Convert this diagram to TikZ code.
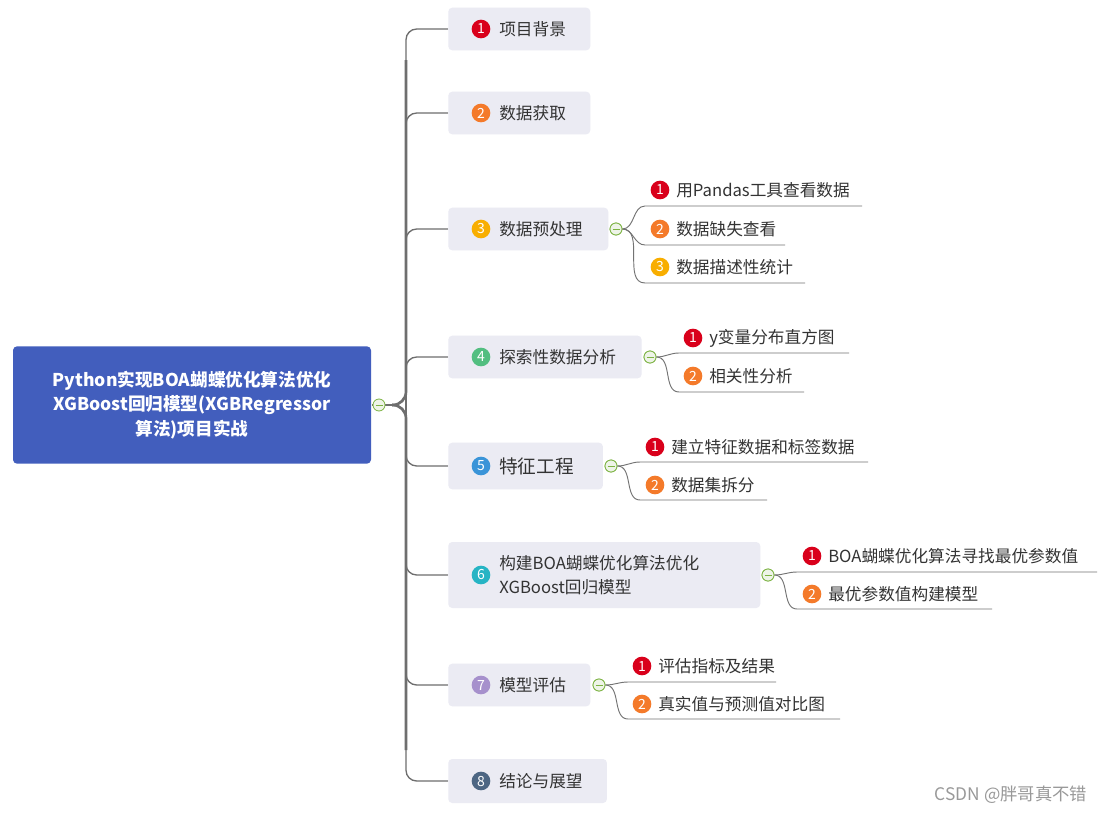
\documentclass[tikz,border=0pt]{standalone}
\usepackage{fontspec}
\setmainfont{Noto Sans CJK SC}
\usetikzlibrary{calc}
\begin{document}
\begin{tikzpicture}[x=0.75pt,y=-0.75pt,
  mainbox/.style={fill=boxc,rounded corners=3pt,anchor=west,inner sep=0,minimum height=32pt,font=\fontsize{12.5}{14}\selectfont,text=txt,align=left},
  badge/.style={circle,fill=#1,inner sep=0,minimum size=14pt,text=white,font=\fontsize{10.5}{10}\selectfont},
  subtxt/.style={anchor=west,font=\fontsize{12.5}{14}\selectfont,text=txt,inner sep=0},
  trunk/.style={draw=trk,line width=2pt},
  br/.style={draw=trk,line width=1pt},
  sl/.style={draw=gray!90!black,line width=0.7pt},
  mk/.style={circle,draw=mkg,fill=mkf,line width=0.6pt,inner sep=0,minimum size=9pt}]
\definecolor{boxc}{HTML}{EBEBF3}
\definecolor{txt}{HTML}{333333}
\definecolor{trk}{HTML}{6E6E6E}
\definecolor{mkg}{HTML}{7CB342}
\definecolor{mkf}{HTML}{EEF4E8}
\definecolor{rootc}{HTML}{425EBD}
\definecolor{c1}{HTML}{D9001B}
\definecolor{c2}{HTML}{F47A2A}
\definecolor{c3}{HTML}{F8AE00}
\definecolor{c4}{HTML}{52BE80}
\definecolor{c5}{HTML}{3A94D8}
\definecolor{c6}{HTML}{26B4C4}
\definecolor{c7}{HTML}{A690CC}
\definecolor{c8}{HTML}{4D6683}
\useasboundingbox (0,0) rectangle (1107,814);
\fill[white] (0,0) rectangle (1107,814);
% root
\node[fill=rootc,rounded corners=3pt,minimum width=268.5pt,minimum height=88pt,text=white,align=center,font=\bfseries\fontsize{13.2}{18.5}\selectfont] (root) at (192,405) {Python实现BOA蝴蝶优化算法优化\\XGBoost回归模型(XGBRegressor\\算法)项目实战};
% branches
\foreach \y in {29,113,229,357,466,575,685,781}{
  \draw[br,rounded corners=8pt] (406,405) -- (406,\y) -- (448,\y);
}
\draw[trk,line width=2pt] (372,405) -- (392,405);
\draw[trunk,rounded corners=10pt] (392,405) -- (406,405) -- (406,60);
\draw[trunk,rounded corners=10pt] (392,405) -- (406,405) -- (406,750);
% main nodes
\node[mainbox,minimum width=106.5pt] (m1) at (448,29) {};
\node[mainbox,minimum width=106.5pt] (m2) at (448,113) {};
\node[mainbox,minimum width=120pt] (m3) at (448,229) {};
\node[mainbox,minimum width=145pt] (m4) at (448,357) {};
\node[mainbox,minimum width=116pt,minimum height=35pt] (m5) at (448,466) {};
\node[mainbox,minimum width=234pt,minimum height=49.5pt] (m6) at (448,575) {};
\node[mainbox,minimum width=106.5pt] (m7) at (448,685) {};
\node[mainbox,minimum width=119pt,minimum height=33pt] (m8) at (448,781) {};
\node[badge=c1] (b1) at (481,29) {1}; \node[subtxt] (t1) at (499,29) {项目背景};
\node[badge=c2] (b2) at (481,113) {2}; \node[subtxt] (t2) at (499,113) {数据获取};
\node[badge=c3] (b3) at (481,229) {3}; \node[subtxt] (t3) at (499,229) {数据预处理};
\node[badge=c4] (b4) at (481,357) {4}; \node[subtxt] (t4) at (499,357) {探索性数据分析};
\node[badge=c5] (b5) at (481,466) {5}; \node[subtxt,font=\fontsize{14}{14}\selectfont] (t5) at (499,466) {特征工程};
\node[badge=c6] (b6) at (481,575) {6}; \node[subtxt,align=left,font=\fontsize{12.5}{17.5}\selectfont] (t6) at (499,575) {构建BOA蝴蝶优化算法优化\\XGBoost回归模型};
\node[badge=c7] (b7) at (481,685) {7}; \node[subtxt] (t7) at (499,685) {模型评估};
\node[badge=c8] (b8) at (481,781) {8}; \node[subtxt] (t8) at (499,781) {结论与展望};
% sub items
\newcommand{\sitem}[9]{%
  \coordinate (#1c) at (#2,#3);
  \draw[sl] (#1) to[out=0,in=180] (#1c) -- (#4,#3);
  \node[badge=#7] (#1bb) at (#5,#6) {#8};
  \node[subtxt] (#1tt) at (#5+16,#6) {#9};
}
\node[mk] (k3) at (616,229) {};
\sitem{k3}{645}{206}{862}{660}{190}{c1}{1}{用Pandas工具查看数据}
\sitem{k3}{645}{245}{785}{660}{229}{c2}{2}{数据缺失查看}
\sitem{k3}{645}{283}{805}{660}{267}{c3}{3}{数据描述性统计}
\node[mk] (k4) at (650,357) {};
\sitem{k4}{679}{353}{849}{693}{338}{c1}{1}{y变量分布直方图}
\sitem{k4}{679}{392}{804}{693}{376}{c2}{2}{相关性分析}
\node[mk] (k5) at (611,466) {};
\sitem{k5}{640}{462}{868}{655}{447}{c1}{1}{建立特征数据和标签数据}
\sitem{k5}{640}{500}{767}{655}{485}{c2}{2}{数据集拆分}
\node[mk] (k6) at (768,575) {};
\sitem{k6}{797}{572}{1097}{812}{556}{c1}{1}{BOA蝴蝶优化算法寻找最优参数值}
\sitem{k6}{797}{609}{992}{812}{594}{c2}{2}{最优参数值构建模型}
\node[mk] (k7) at (599,685) {};
\sitem{k7}{628}{682}{776}{642}{666}{c1}{1}{评估指标及结果}
\sitem{k7}{628}{719}{840}{642}{704}{c2}{2}{真实值与预测值对比图}
\foreach \k in {k3,k4,k5,k6,k7}{
  \node[mk] at (\k) {}; \draw[mkg,line width=0.6pt] ($(\k)+(-3.5,0)$) -- ($(\k)+(3.5,0)$);}
\node[mk] (k0) at (379,405) {};
\draw[mkg,line width=0.6pt] (375.5,405) -- (382.5,405);
\node[anchor=east,text=gray!80,font=\fontsize{13}{14}\selectfont] (wm) at (1092,795) {CSDN @胖哥真不错};
\end{tikzpicture}
\end{document}
